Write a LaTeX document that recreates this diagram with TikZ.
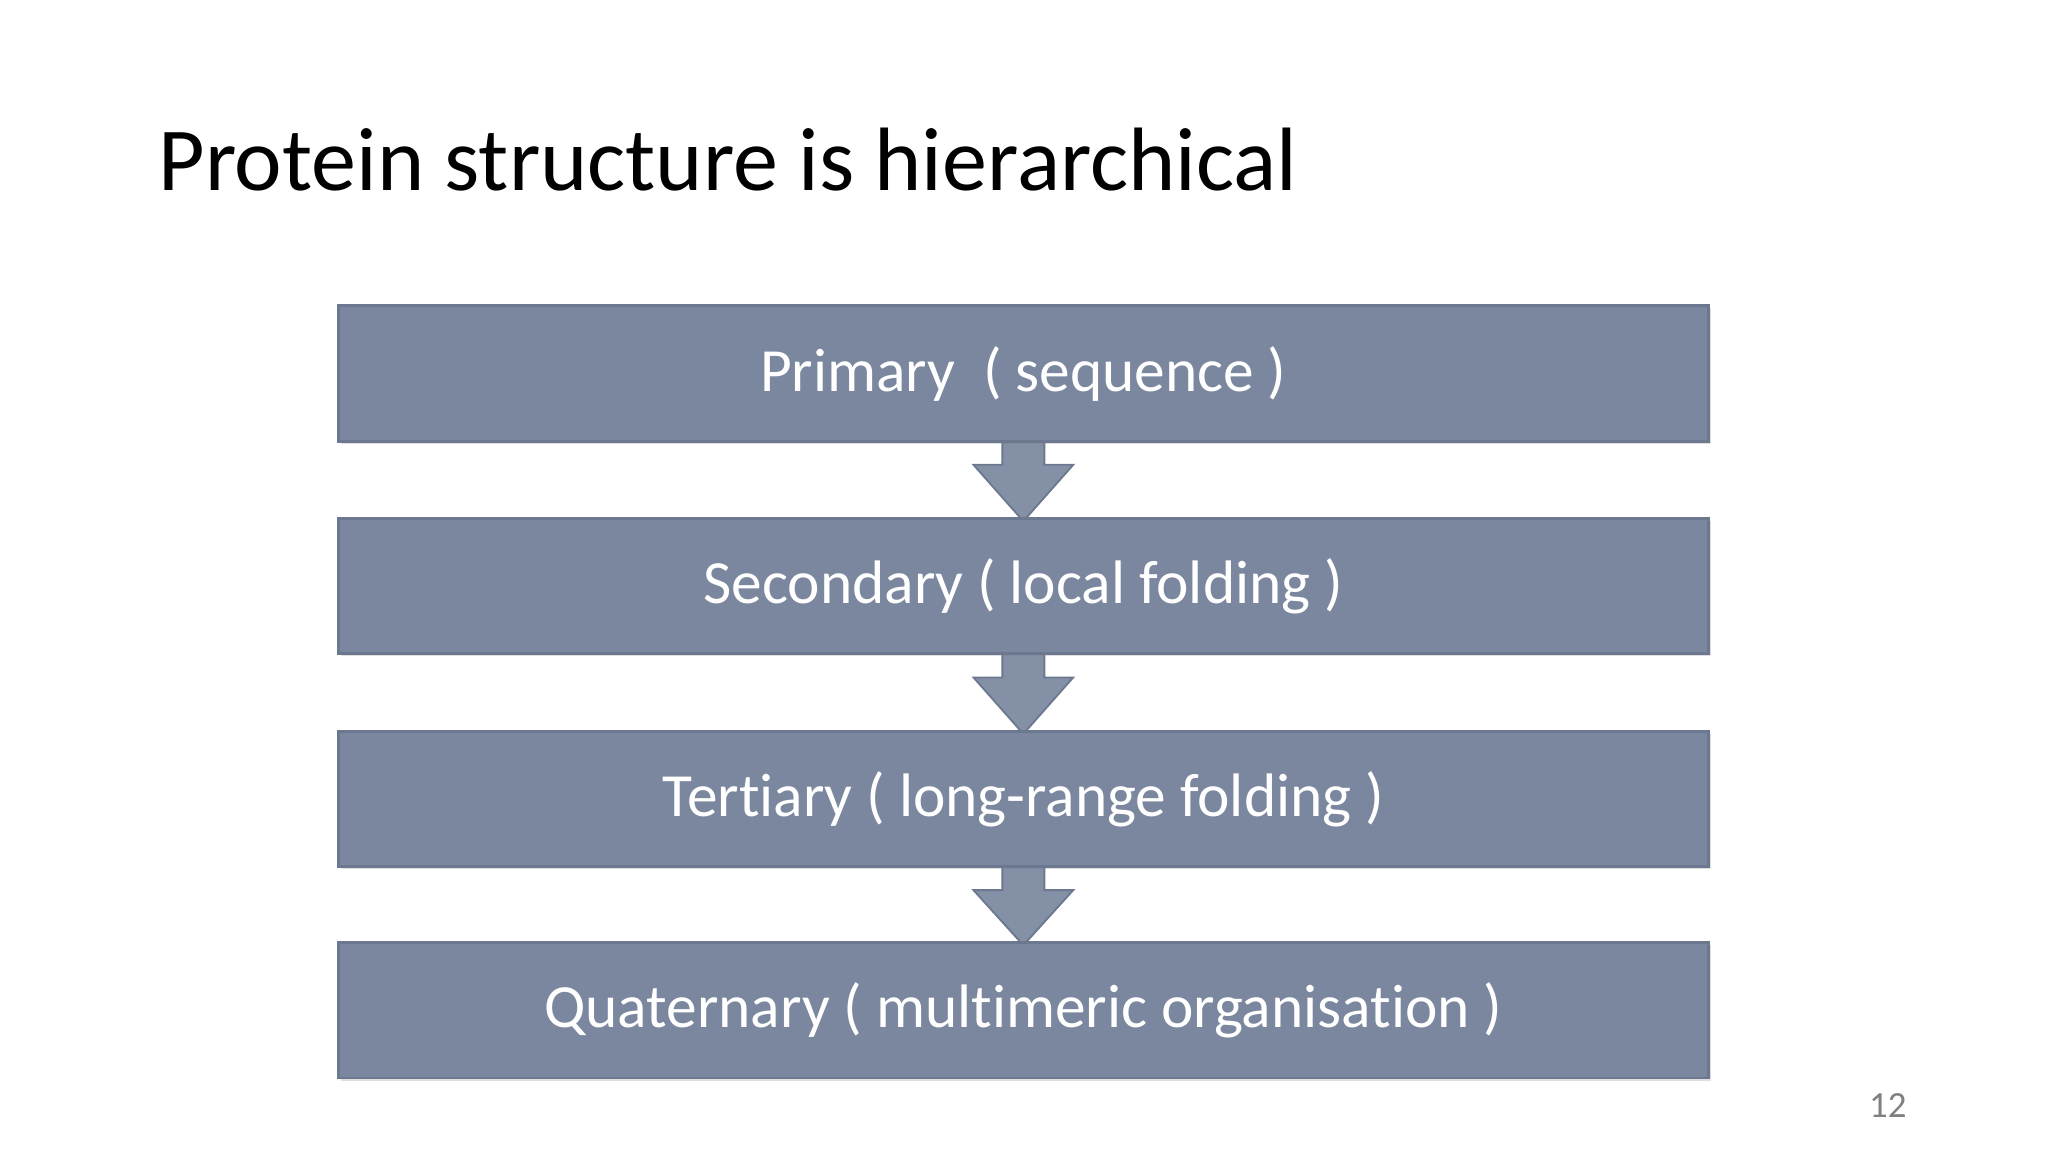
\documentclass[tikz,border=0pt]{standalone}
\usepackage{fontspec}
\setmainfont[Ligatures={NoCommon,NoRare,NoContextual}]{Carlito}
\usetikzlibrary{shadows,calc}
\definecolor{boxc}{HTML}{7A879E}
\definecolor{boxd}{HTML}{6C788F}
\definecolor{arrc}{HTML}{8390A6}
\tikzset{
 level/.style={draw=boxd, line width=0.6pt, fill=boxc, minimum width=10.43cm, minimum height=1.03cm, inner sep=0pt, text=white, font=\fontsize{13.3}{16}\selectfont, drop shadow={shadow xshift=0.02cm, shadow yshift=-0.02cm, opacity=0.25}},
 downarr/.style={fill=arrc, draw=boxd, line width=0.4pt}
}
\begin{document}
\begin{tikzpicture}[x=0.01cm,y=0.01cm]
\useasboundingbox (0,0) rectangle (1560,-877.5);
\node[anchor=base west, inner sep=0pt, font=\fontsize{19.5}{24}\selectfont] (title) at (120,-145) {Protein structure is hierarchical};
\foreach \n/\yt in {a/233,b/395,c/557,d/718}{
  \coordinate (\n) at (779.5,-\yt-51.5);
}
\foreach \u/\v in {a/b,b/c,c/d}{
  \path (\u) ++(0,-51.5) coordinate (\u top);
  \path (\v) ++(0,51.5) coordinate (\v bot);
  \filldraw[downarr] ($(\u top)+(-16,0)$) -- ($(\u top)+(-16,-18)$) -- ($(\u top)+(-38,-18)$) -- ($(\v bot)+(0,-2)$) -- ($(\u top)+(38,-18)$) -- ($(\u top)+(16,-18)$) -- ($(\u top)+(16,0)$) -- cycle;
}
\node[level] (p) at (a) {Primary\ \ ( sequence )};
\node[level] (s) at (b) {Secondary ( local folding )};
\node[level] (t) at (c) {Tertiary ( long-range folding )};
\node[level] (q) at (d) {Quaternary ( multimeric organisation )};
\node[text=gray, font=\fontsize{8}{10}\selectfont] (num) at (1438,-842) {12};
\end{tikzpicture}
\end{document}
